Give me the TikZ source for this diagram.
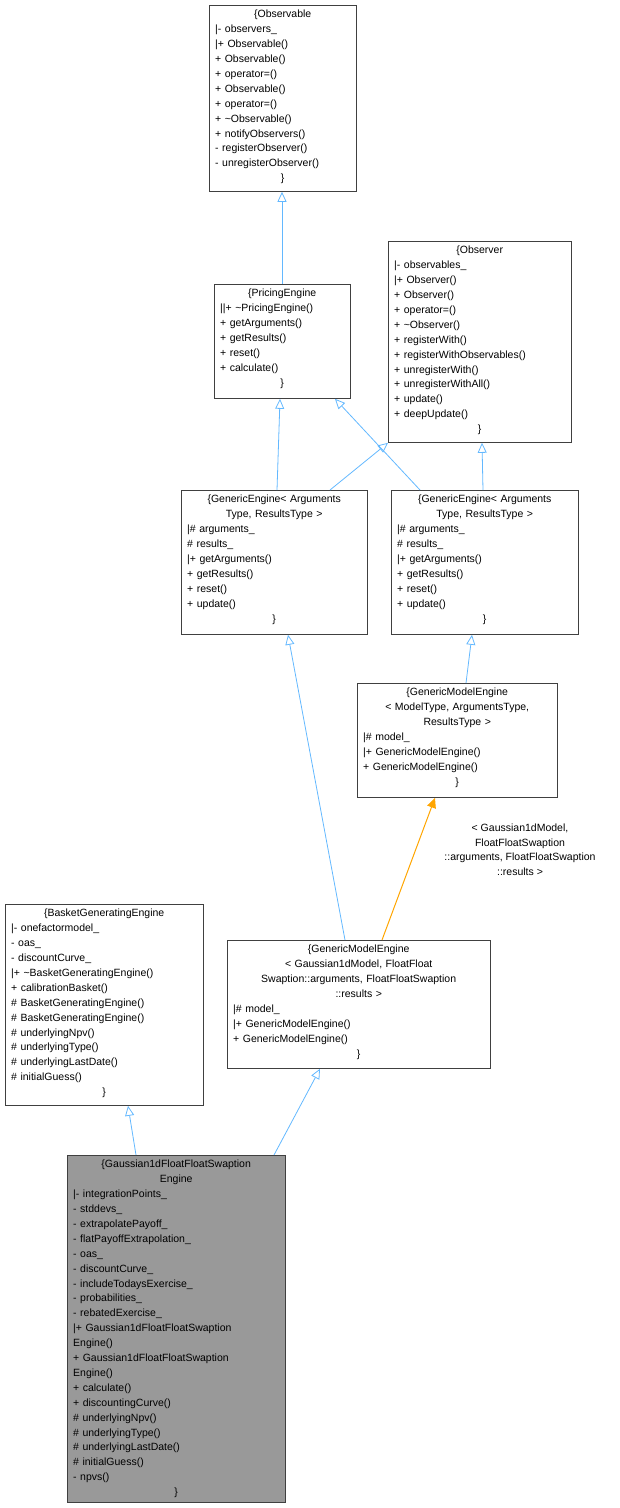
\documentclass[tikz,border=0pt]{standalone}
\usepackage{fontspec}
\setmainfont{Liberation Sans}
\usetikzlibrary{arrows.meta}
\definecolor{edgeblue}{HTML}{63B8FF}
\definecolor{edgeorange}{HTML}{FFA500}
\newcommand\ctr[1]{\makebox[\hsize][c]{#1}}
\tikzset{
  umlrect/.style={draw=black!75, line width=0.8pt, anchor=north west, inner sep=0pt},
  umltext/.style={anchor=north west, inner sep=0pt, align=left, font=\fontsize{10.5}{14.9}\selectfont},
  inherit/.style={draw=edgeblue, line width=0.8pt, -{Triangle[open,length=10pt,width=9pt]}},
  templ/.style={draw=edgeorange, line width=1pt, -{Triangle[length=10pt,width=9pt]}}
}
\newcommand\umlbox[7][]{%
  \node[umlrect,minimum width=#5pt,minimum height=#6pt,#1] (#2) at (#3,#4) {};
  \node[umltext,text width={\dimexpr#5pt-12pt\relax}] (#2T) at ([xshift=6pt,yshift=-5pt]#2.north west) {#7};
}
\begin{document}
\begin{tikzpicture}[x=1pt,y=-1pt]
\useasboundingbox (0,0) rectangle (620,1508);
\umlbox{obs}{209}{5}{147}{186}{\ctr{\{Observable}\\|- observers\_\\|+ Observable()\\+ Observable()\\+ operator=()\\+ Observable()\\+ operator=()\\+ \textasciitilde Observable()\\+ notifyObservers()\\- registerObserver()\\- unregisterObserver()\\\ctr{\}}}
\umlbox{obsr}{388}{241}{183}{201}{\ctr{\{Observer}\\|- observables\_\\|+ Observer()\\+ Observer()\\+ operator=()\\+ \textasciitilde Observer()\\+ registerWith()\\+ registerWithObservables()\\+ unregisterWith()\\+ unregisterWithAll()\\+ update()\\+ deepUpdate()\\\ctr{\}}}
\umlbox{pe}{214}{284}{136}{114}{\ctr{\{PricingEngine}\\||+ \textasciitilde PricingEngine()\\+ getArguments()\\+ getResults()\\+ reset()\\+ calculate()\\\ctr{\}}}
\umlbox{gel}{181}{490}{186}{144}{\ctr{\{GenericEngine< Arguments}\\\ctr{Type, ResultsType >}\\|\# arguments\_\\\# results\_\\|+ getArguments()\\+ getResults()\\+ reset()\\+ update()\\\ctr{\}}}
\umlbox{ger}{391}{490}{187}{144}{\ctr{\{GenericEngine< Arguments}\\\ctr{Type, ResultsType >}\\|\# arguments\_\\\# results\_\\|+ getArguments()\\+ getResults()\\+ reset()\\+ update()\\\ctr{\}}}
\umlbox{gmt}{357}{683}{200}{114}{\ctr{\{GenericModelEngine}\\\ctr{< ModelType, ArgumentsType,}\\\ctr{ResultsType >}\\|\# model\_\\|+ GenericModelEngine()\\+ GenericModelEngine()\\\ctr{\}}}
\umlbox{bge}{5}{904}{198}{201}{\ctr{\{BasketGeneratingEngine}\\|- onefactormodel\_\\- oas\_\\- discountCurve\_\\|+ \textasciitilde BasketGeneratingEngine()\\+ calibrationBasket()\\\# BasketGeneratingEngine()\\\# BasketGeneratingEngine()\\\# underlyingNpv()\\\# underlyingType()\\\# underlyingLastDate()\\\# initialGuess()\\\ctr{\}}}
\umlbox{gmb}{227}{940}{263}{128}{\ctr{\{GenericModelEngine}\\\ctr{< Gaussian1dModel, FloatFloat}\\\ctr{Swaption::arguments, FloatFloatSwaption}\\\ctr{::results >}\\|\# model\_\\|+ GenericModelEngine()\\+ GenericModelEngine()\\\ctr{\}}}
\umlbox[fill=black!40]{gfs}{67}{1155}{218}{347}{\ctr{\{Gaussian1dFloatFloatSwaption}\\\ctr{Engine}\\|- integrationPoints\_\\- stddevs\_\\- extrapolatePayoff\_\\- flatPayoffExtrapolation\_\\- oas\_\\- discountCurve\_\\- includeTodaysExercise\_\\- probabilities\_\\- rebatedExercise\_\\|+ Gaussian1dFloatFloatSwaption\\Engine()\\+ Gaussian1dFloatFloatSwaption\\Engine()\\+ calculate()\\+ discountingCurve()\\\# underlyingNpv()\\\# underlyingType()\\\# underlyingLastDate()\\\# initialGuess()\\- npvs()\\\ctr{\}}}
% edges
\draw[inherit] ([xshift=68pt]pe.north west) -- ([xshift=73pt]obs.south west);
\draw[inherit] ([xshift=96pt]gel.north west) -- ([xshift=66pt]pe.south west);
\draw[inherit] ([xshift=29pt]ger.north west) -- ([xshift=121pt]pe.south west);
\draw[inherit] ([xshift=149pt]gel.north west) -- ([xshift=0pt]obsr.south west);
\draw[inherit] ([xshift=92pt]ger.north west) -- ([xshift=94pt]obsr.south west);
\draw[inherit] ([xshift=109pt]gmt.north west) -- ([xshift=81pt]ger.south west);
\draw[inherit] ([xshift=118pt]gmb.north west) -- ([xshift=107pt]gel.south west);
\draw[templ] ([xshift=155pt]gmb.north west) -- ([xshift=78pt]gmt.south west);
\node[font=\fontsize{10.5}{14.9}\selectfont, align=center, anchor=north] (lbl) at (520,820) {< Gaussian1dModel,\\FloatFloatSwaption\\::arguments, FloatFloatSwaption\\::results >};
\draw[inherit] ([xshift=69pt]gfs.north west) -- ([xshift=123pt]bge.south west);
\draw[inherit] ([xshift=207pt]gfs.north west) -- ([xshift=93pt]gmb.south west);
\end{tikzpicture}
\end{document}
